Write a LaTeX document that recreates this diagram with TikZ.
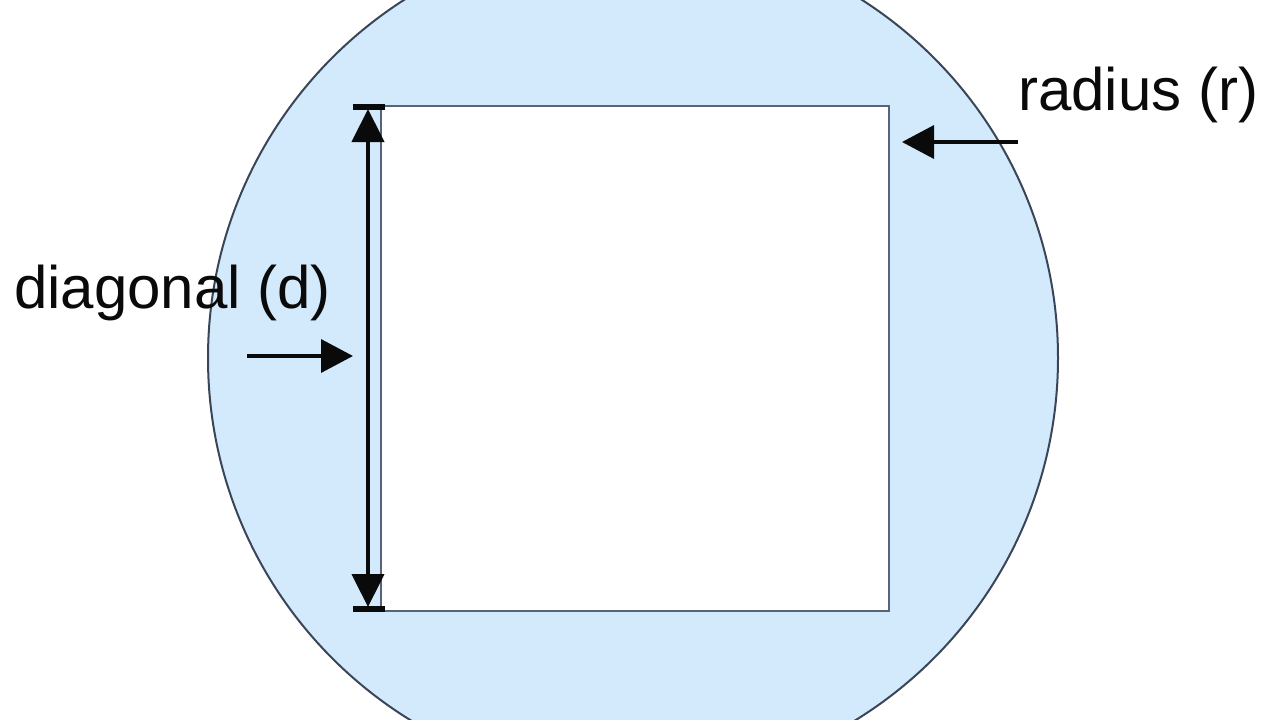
\documentclass[tikz,border=0pt]{standalone}
\usepackage{fontspec}
\setmainfont{Liberation Sans}
\usetikzlibrary{arrows.meta}
\definecolor{circfill}{RGB}{211,234,252}
\definecolor{circline}{RGB}{58,70,88}
\definecolor{sqline}{RGB}{88,98,120}
\definecolor{ink}{RGB}{10,10,10}
\tikzset{
  lbl/.style={anchor=base west, inner sep=0pt, text=ink, font=\fontsize{60}{64}\selectfont},
  ptr/.style={draw=ink, line width=3.5pt, -{Triangle[length=32pt,width=33pt]}},
  dimline/.style={draw=ink, line width=4.5pt, {Triangle[length=33pt,width=32pt]}-{Triangle[length=33pt,width=32pt]}},
  tickbar/.style={draw=ink, line width=5.5pt}
}
\begin{document}
\begin{tikzpicture}[x=1pt,y=-1pt]
\useasboundingbox (0,0) rectangle (1280,720);
\clip (0,0) rectangle (1280,720);
\fill[white] (0,0) rectangle (1280,720);
% circle
\node[circle, draw=circline, line width=2pt, fill=circfill, minimum size=850pt, inner sep=0pt] (circ) at (633,358) {};
% square
\node[rectangle, draw=sqline, line width=2pt, fill=white, minimum width=508pt, minimum height=505pt, inner sep=0pt] (sq) at (635,358.5) {};
% dimension line
\coordinate (dtop) at (368,107);
\coordinate (dbot) at (368,609);
\draw[tickbar] ([xshift=-15pt]dtop) -- ([xshift=17pt]dtop);
\draw[tickbar] ([xshift=-15pt]dbot) -- ([xshift=17pt]dbot);
\draw[dimline] ([yshift=-2pt]dtop) -- ([yshift=2pt]dbot);
% labels
\node[lbl] (rlab) at (1018,110) {radius (r)};
\node[lbl] (dlab) at (14,308) {diagonal (d)};
% pointers
\coordinate (rtail) at (1018,142);
\coordinate (rtip) at (902,142);
\draw[ptr] (rtail) -- (rtip);
\coordinate (dtail) at (247,356);
\coordinate (dtip) at (353,356);
\draw[ptr] (dtail) -- (dtip);
\end{tikzpicture}
\end{document}
